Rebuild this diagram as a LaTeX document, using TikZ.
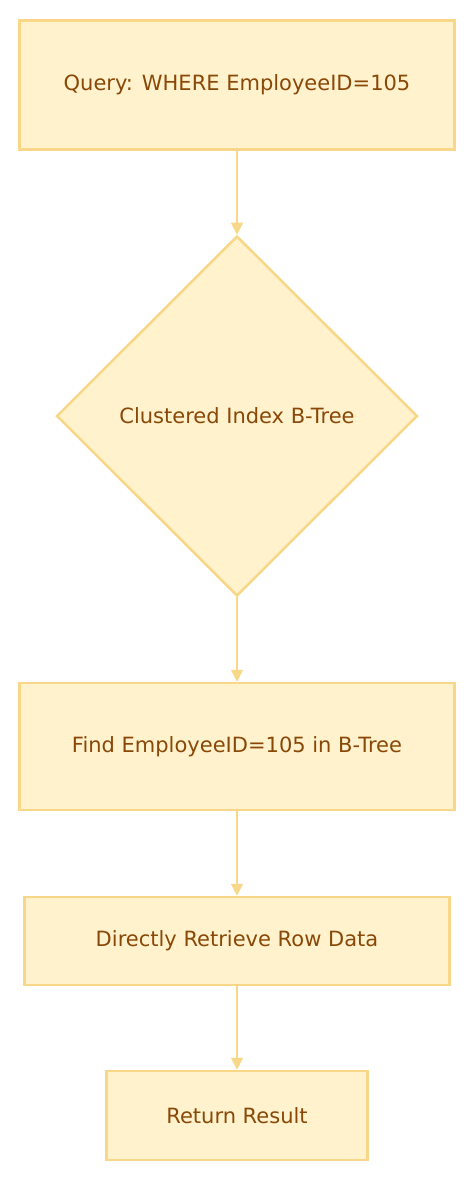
\documentclass[tikz,border=0pt]{standalone}
\usepackage{fontspec}
\setmainfont{DejaVu Sans}
\usetikzlibrary{shapes.geometric,arrows.meta}
\definecolor{boxfill}{HTML}{FFF2CC}
\definecolor{boxline}{HTML}{F8D888}
\definecolor{boxtext}{HTML}{8A4808}
\tikzset{
  stepbox/.style={draw=boxline, fill=boxfill, line width=2.5pt, text=boxtext,
    font=\fontsize{21}{25}\selectfont, inner sep=0pt},
  decision/.style={stepbox, diamond, aspect=1},
  flow/.style={draw=boxline, line width=1.3pt, -{Triangle[length=12pt,width=12pt]}}
}
\begin{document}
\begin{tikzpicture}[x=1pt,y=-1pt]
	\useasboundingbox (0,0) rectangle (474,1179);
	\node[stepbox, minimum width=435pt, minimum height=129pt] (query) at (237,85) {Query: WHERE EmployeeID=105};
	\node[decision, minimum width=361pt, minimum height=360pt] (index) at (237,416) {Clustered Index B-Tree};
	\node[stepbox, minimum width=435pt, minimum height=127pt] (find) at (237,746.5) {Find EmployeeID=105 in B-Tree};
	\node[stepbox, minimum width=425pt, minimum height=88pt] (fetch) at (237,941) {Directly Retrieve Row Data};
	\node[stepbox, minimum width=261pt, minimum height=89pt] (result) at (237,1115.5) {Return Result};
	\draw[flow] (query) -- (index);
	\draw[flow] (index) -- (find);
	\draw[flow] (find) -- (fetch);
	\draw[flow] (fetch) -- (result);
\end{tikzpicture}
\end{document}
